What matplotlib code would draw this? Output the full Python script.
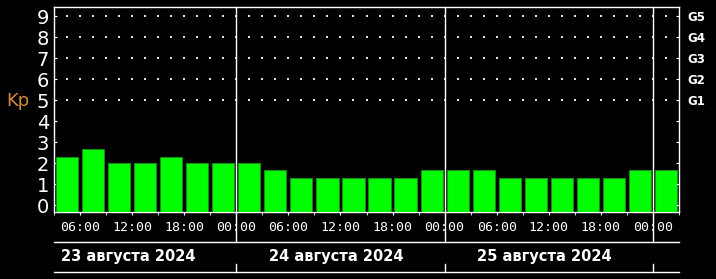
import matplotlib.pyplot as plt
import matplotlib.transforms as mtransforms
import numpy as np

# Kp index, 3-hour intervals starting 23 Aug 2024 03:00
kp = [2.33, 2.67, 2.0, 2.0, 2.33, 2.0, 2.0,
      2.0, 1.67, 1.33, 1.33, 1.33, 1.33, 1.33, 1.67,
      1.67, 1.67, 1.33, 1.33, 1.33, 1.33, 1.33, 1.67,
      1.67]
start_hour = 3
days = ['23 августа 2024', '24 августа 2024', '25 августа 2024']
g_labels = ['G1', 'G2', 'G3', 'G4', 'G5']

hours = start_hour + 3 * np.arange(len(kp)) + 1.5
x_min = start_hour
x_max = start_hour + 3 * len(kp)
y_min, y_max = -0.31, 9.45

fig = plt.figure(figsize=(7.16, 2.79), dpi=100, facecolor='black')
ax = fig.add_axes([54/716, 1-212/279, 625/716, 205/279], facecolor='black')

ax.bar(hours, np.array(kp) - y_min, bottom=y_min, width=2.55,
       color='#00ff00', edgecolor='#1c8a1c', linewidth=0.8, zorder=3)

# dotted grid above Kp=5
gx = np.arange(4.5, x_max, 1.5)
gy = np.arange(5, 10)
GX, GY = np.meshgrid(gx, gy)
ax.scatter(GX.ravel(), GY.ravel(), s=0.6, marker='s', color='#e0e0e0',
           linewidths=0, zorder=2)

ax.set_xlim(x_min, x_max)
ax.set_ylim(y_min, y_max)

for s in ax.spines.values():
    s.set_color('white')
    s.set_linewidth(1)

ax.set_yticks(range(10))
ax.tick_params(axis='y', direction='in', length=2.2, color='white',
               labelcolor='white', labelsize=14, pad=3.5)

major = np.arange(6, x_max + 0.1, 6)
ax.set_xticks(major)
ax.set_xticklabels([f'{int(h) % 24:02d}:00' for h in major],
                   family='DejaVu Sans Mono')
ax.set_xticks(np.arange(x_min, x_max + 0.1, 3), minor=True)
ax.tick_params(axis='x', which='both', direction='out', length=2.2,
               color='white', labelcolor='white', labelsize=9.5, pad=4)

ax2 = ax.twinx()
ax2.set_ylim(y_min, y_max)
ax2.set_yticks(range(10))
ax2.set_yticklabels([''] * 5 + g_labels, fontweight='bold')
ax2.tick_params(axis='y', direction='in', length=2.2, color='white',
                labelcolor='white', labelsize=8.5, pad=6)
for s in ax2.spines.values():
    s.set_visible(False)

trans = mtransforms.blended_transform_factory(ax.transData, ax.transAxes)
b1 = (212 - 242) / 205
b2 = (212 - 264) / 205
b3 = (212 - 272) / 205

# day separators
for d in range(1, len(days) + 1):
    ax.plot([24 * d, 24 * d], [1, b1], color='white', lw=1,
            transform=trans, clip_on=False, zorder=4)
    ax.plot([24 * d, 24 * d], [b2, b3], color='white', lw=1,
            transform=trans, clip_on=False, zorder=4)

for yy in (b1, b3):
    ax.plot([0, 1], [yy, yy], color='white', lw=1,
            transform=ax.transAxes, clip_on=False)

for i, d in enumerate(days):
    ax.text(24 * i + 11.5, (212 - 257) / 205, d, transform=trans,
            ha='center', va='center', color='white', fontsize=10.5,
            fontweight='bold')

fig.text(6/716, 1 - 101/279, 'Kp', color='#d4883c', fontsize=13,
         ha='left', va='center')

fig.savefig('out.png', dpi=100, facecolor='black')
